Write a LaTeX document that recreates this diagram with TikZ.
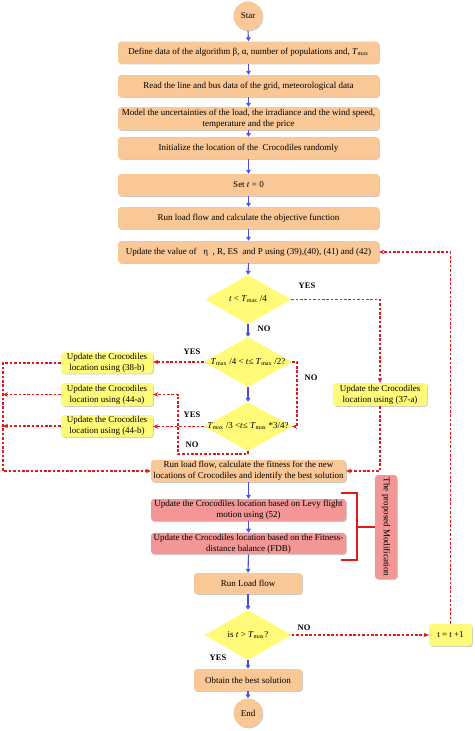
\documentclass[tikz,border=0pt]{standalone}
\usepackage{fontspec}
\setmainfont{Liberation Serif}
\usetikzlibrary{shapes.geometric,arrows.meta,shadows,calc}
\definecolor{orfill}{RGB}{250,200,150}
\definecolor{yelfill}{RGB}{255,250,120}
\definecolor{pinkfill}{RGB}{243,150,150}
\definecolor{bluearr}{RGB}{70,80,225}
\definecolor{redarr}{RGB}{225,25,25}
\newcommand{\Tm}{\textit{T}\textsubscript{max}}
\begin{document}
\begin{tikzpicture}[x=1pt,y=-1pt,
  font=\fontsize{9}{11}\selectfont,
  shad/.style={drop shadow={shadow xshift=0.8pt,shadow yshift=-0.9pt,fill=black!40,opacity=0.5}},
  obox/.style={rectangle,rounded corners=3pt,fill=orfill,minimum width=261pt,minimum height=22pt,inner sep=1pt,align=center,shad},
  sbox/.style={rectangle,rounded corners=3pt,fill=orfill,minimum width=108pt,minimum height=21pt,inner sep=1pt,align=center,shad},
  pbox/.style={rectangle,rounded corners=3pt,fill=pinkfill,minimum width=195pt,minimum height=22pt,inner sep=1pt,align=center,shad},
  ybox/.style={rectangle,rounded corners=3pt,fill=yelfill,minimum width=92pt,minimum height=22pt,inner sep=1pt,align=center,shad},
  circ/.style={circle,fill=orfill,minimum size=29pt,inner sep=0pt,shad},
  dia/.style={diamond,fill=yelfill,minimum width=87pt,minimum height=50pt,inner sep=0pt},
  dlbl/.style={font=\fontsize{9}{11}\selectfont,inner sep=0pt},
  yn/.style={font=\fontsize{8.5}{10}\selectfont\bfseries,inner sep=0pt},
  barr/.style={draw=bluearr,line width=1.1pt,-{Triangle[width=4.5pt,length=4pt]}},
  rarr/.style={draw=redarr,line width=1.1pt,dash pattern=on 2.6pt off 1.8pt,-{Stealth[length=5pt,width=4.5pt]}},
  brk/.style={draw=redarr,line width=2pt}
]
\useasboundingbox (0,0) rectangle (474,731);

% main column
\node[circ] (start) at (248,16) {Star};
\node[obox] (b1) at (248.5,52.5) {Define data of the algorithm β, α, number of populations and, \Tm};
\node[obox] (b2) at (248.5,86) {Read the line and bus data of the grid, meteorological data};
\node[obox,minimum height=23pt] (b3) at (248.5,118.5) {Model the uncertainties of the load, the irradiance and the wind speed,\\temperature and the price};
\node[obox] (b4) at (248.5,148) {Initialize the location of the~ Crocodiles randomly};
\node[obox] (b5) at (248.5,185) {Set \textit{t} = 0};
\node[obox] (b6) at (248.5,218) {Run load flow and calculate the objective function};
\node[obox] (b7) at (248.5,252) {Update the value of~~ η~ , R, ES~ and P using (39),(40), (41) and (42)};

\node[dia,minimum width=86pt,minimum height=49pt,label={[dlbl]center:\textit{t} < \Tm\ /4}] (d1) at (248,299.5) {};
\node[dia,minimum width=88pt,label={[dlbl]center:\Tm\ /4 < \textit{t}≤ \Tm\ /2?}] (d2) at (248,362) {};
\node[dia,minimum width=88pt,minimum height=49pt,label={[dlbl]center:\Tm\ /3 <\textit{t}≤ \Tm\ *3/4?}] (d3) at (248,426.5) {};

\node[ybox,minimum height=21pt] (y38) at (107,363) {Update the Crocodiles\\location using (38-b)};
\node[ybox,minimum height=23pt] (y44a) at (107,394.5) {Update the Crocodiles\\location using (44-a)};
\node[ybox] (y44b) at (107,426) {Update the Crocodiles\\location using (44-b)};
\node[ybox,minimum width=94pt,minimum height=23pt] (y37) at (380,394.5) {Update the Crocodiles\\location using (37-a)};

\node[pbox,fill=orfill] (big) at (248.5,471) {Run load flow, calculate the fitness for the new\\locations of Crocodiles and identify the best solution};
\node[pbox] (p1) at (248.5,510) {Update the Crocodiles location based on Levy flight\\motion using (52)};
\node[pbox,minimum height=21pt] (p2) at (248.5,543.5) {Update the Crocodiles location based on the Fitness-\\distance balance (FDB)};
\node[sbox] (rl) at (248,583.5) {Run Load flow};
\node[dia,label={[dlbl]center:is \textit{t} > \Tm?}] (d4) at (248,635) {};
\node[ybox,minimum width=43pt,minimum height=22pt] (tb) at (450.5,635) {t = t +1};
\node[sbox,minimum height=22pt] (ob) at (248,680) {Obtain the best solution};
\node[circ] (end) at (248,713) {End};

\node[rectangle,rounded corners=3pt,fill=pinkfill,minimum width=104pt,minimum height=22pt,inner sep=1pt,rotate=-90,shad] (pm) at (386,527) {The proposed Modification};

% labels
\node[yn] (l1) at (307,286) {YES};
\node[yn] (l2) at (264,329) {NO};
\node[yn] (l3) at (192,352) {YES};
\node[yn] (l4) at (311,378) {NO};
\node[yn] (l5) at (192,415) {YES};
\node[yn] (l6) at (192,445) {NO};
\node[yn] (l7) at (304,628) {NO};
\node[yn] (l8) at (218,658) {YES};

% coordinates
\coordinate (rn) at (297,395);
\coordinate (nb) at (178,454);
\coordinate (lb) at (3,471);
\coordinate (bt) at (357,493);
\coordinate (bb) at (357,560);
\coordinate (bm) at (357,527);

% blue arrows
\foreach \a/\b in {start/b1,b1/b2,b2/b3,b3/b4,b4/b5,b5/b6,b6/b7,b7/d1,d1/d2,d2/d3,big/p1,p1/p2,p2/rl,rl/d4,d4/ob,ob/end}
  \draw[barr] (\a.south) -- (\b.north);

% red dashed
\draw[rarr] (d1.east) -| (y37.north);
\draw[rarr] (y37.south) |- (big.east);
\draw[rarr] (d2.west) -- (d2.west -| y38.east);
\draw[rarr] (d2.east) -| (rn) |- (d3.east);
\draw[rarr] (d3.west) -- (d3.west -| y44b.east);
\draw[rarr] (d3.south) |- (nb) |- (y44a.east);
\draw[rarr] (y38.west) -| (lb) -- (big.west);
\draw[rarr] (y44a.west) -- (y44a.west -| lb);
\draw[rarr] (y44b.west) -- (y44b.west -| lb);
\draw[rarr] (d4.east) -- (tb.west);
\draw[rarr] (tb.north) |- (b7.east);

% bracket
\draw[brk] ($(bt)+(-16,0)$) -- (bt) -- (bb) -- ($(bb)+(-16,0)$);
\draw[brk] (bm) -- (pm.south);
\end{tikzpicture}
\end{document}
